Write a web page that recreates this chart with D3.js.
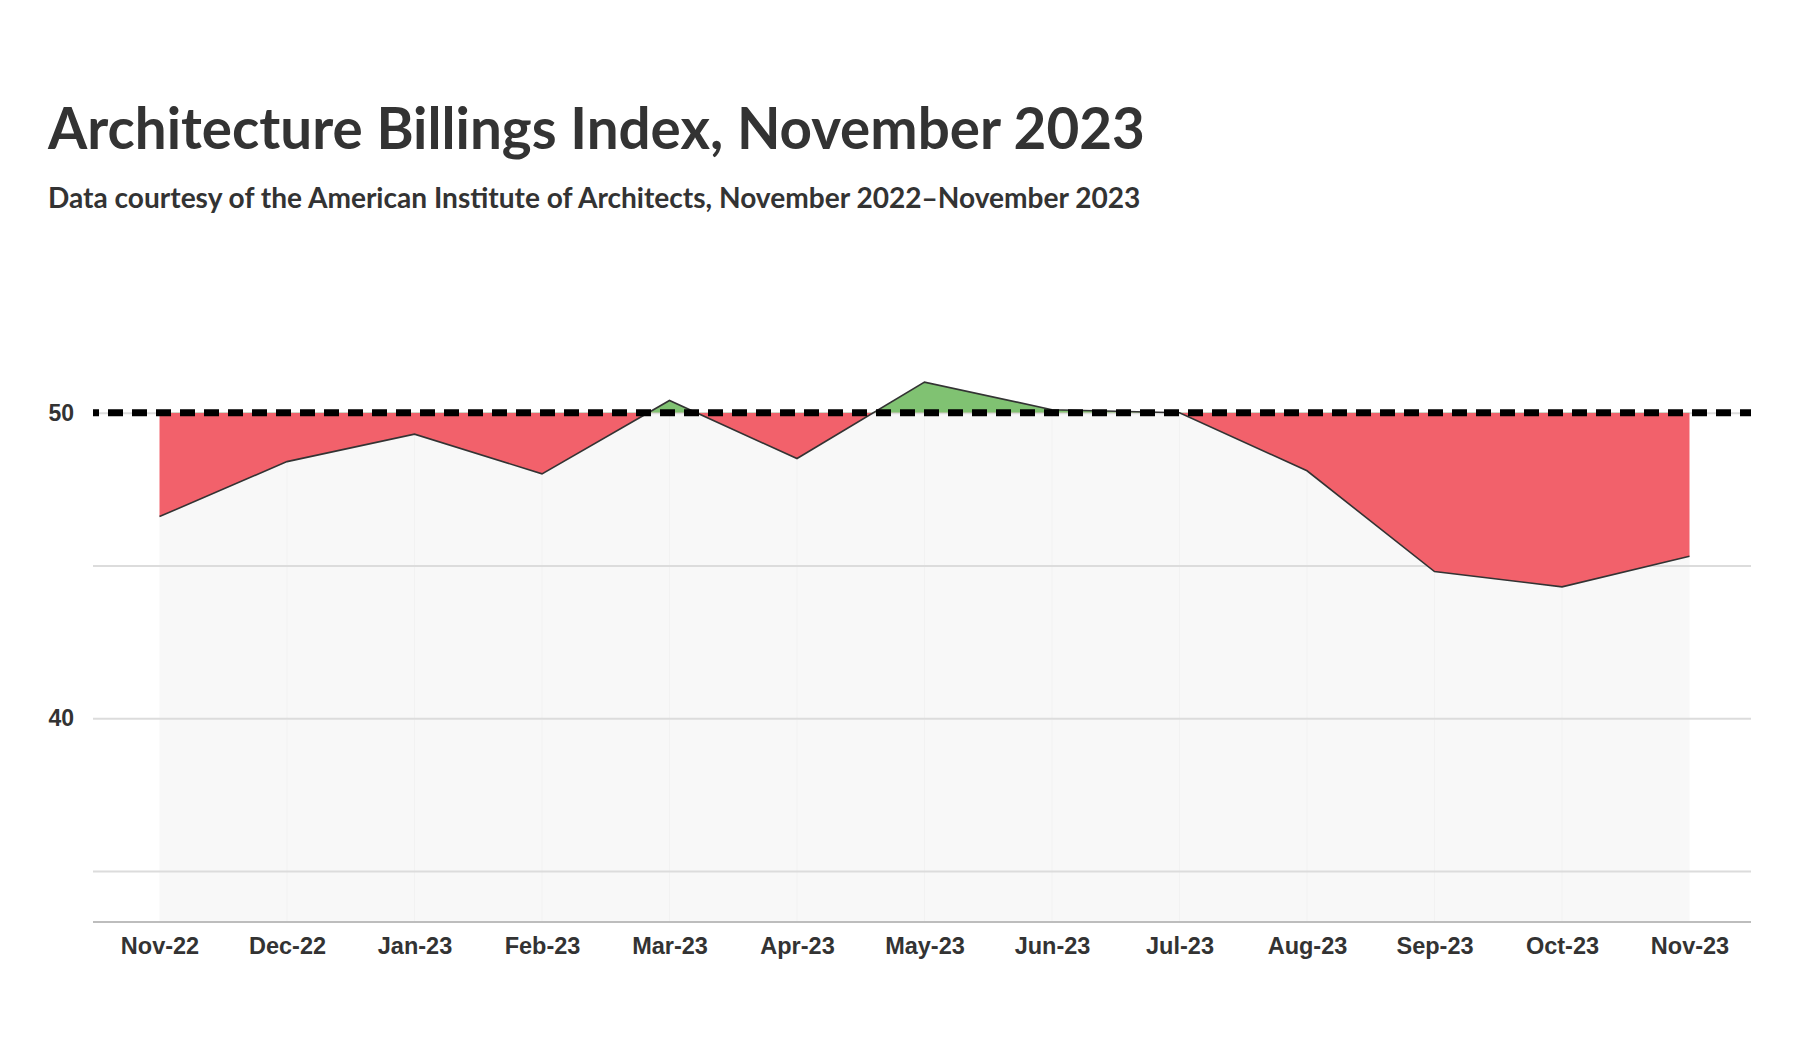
<!DOCTYPE html>
<html>
<head>
<meta charset="utf-8">
<script src="https://cdn.jsdelivr.net/npm/d3@7"></script>
<style>
  body { margin: 0; background: #fff; }
  .title { font-family: Lato, "Noto Sans", sans-serif; font-weight: 700; fill: #333; }
  .tick text { font-family: "Liberation Sans", Arial, sans-serif; font-weight: 700; fill: #333; }
</style>
</head>
<body>
<script>
// chart data
var months = ["Nov-22", "Dec-22", "Jan-23", "Feb-23", "Mar-23", "Apr-23", "May-23",
              "Jun-23", "Jul-23", "Aug-23", "Sep-23", "Oct-23", "Nov-23"];
var billings = [46.6, 48.4, 49.3, 48.0, 50.4, 48.5, 51.0, 50.1, 50.0, 48.1, 44.8, 44.3, 45.3];
var gridTicks = [35, 40, 45, 50];
var labelTicks = [40, 50];
var baseline = 50;

var svgWidth = 1800;
var svgHeight = 1062;

// plot box
var plotLeft = 93, plotRight = 1751, plotTop = 311, plotBottom = 922;

var svg = d3.select("body")
  .append("svg")
  .attr("width", svgWidth)
  .attr("height", svgHeight);

var x = d3.scalePoint()
  .domain(months)
  .range([159.5, 1689.5]);

var y = d3.scaleLinear()
  .domain([33.33, 53.33])
  .range([plotBottom, plotTop]);

var data = months.map((m, i) => ({month: m, value: billings[i]}));

// light grey area under the line
svg.append("path")
  .datum(data)
  .attr("fill", "#f8f8f8")
  .attr("d", d3.area()
    .x(d => x(d.month))
    .y0(plotBottom)
    .y1(d => y(d.value)));

// faint month seams inside the grey area
svg.selectAll(".seam")
  .data(data.slice(1, -1))
  .enter()
  .append("line")
  .attr("class", "seam")
  .attr("x1", d => x(d.month))
  .attr("x2", d => x(d.month))
  .attr("y1", d => y(Math.min(d.value, baseline)) + 2)
  .attr("y2", plotBottom)
  .attr("stroke", "#f2f2f2")
  .attr("stroke-width", 1);

// gridlines
svg.append("g")
  .attr("transform", `translate(${plotLeft},0)`)
  .call(d3.axisLeft(y).tickValues(gridTicks).tickSize(-(plotRight - plotLeft)).tickFormat(""))
  .call(g => g.select(".domain").remove())
  .call(g => g.selectAll("line").attr("stroke", "#dcdcdc").attr("stroke-width", 2));

// red / green areas between the line and 50, split with clip paths
var defs = svg.append("defs");
defs.append("clipPath").attr("id", "below")
  .append("rect")
  .attr("x", 0).attr("y", y(baseline))
  .attr("width", svgWidth).attr("height", plotBottom - y(baseline));
defs.append("clipPath").attr("id", "above")
  .append("rect")
  .attr("x", 0).attr("y", 0)
  .attr("width", svgWidth).attr("height", y(baseline));

var band = d3.area()
  .x(d => x(d.month))
  .y0(y(baseline))
  .y1(d => y(d.value));

svg.append("path")
  .datum(data)
  .attr("fill", "#f2616b")
  .attr("clip-path", "url(#below)")
  .attr("d", band);

svg.append("path")
  .datum(data)
  .attr("fill", "#80c272")
  .attr("clip-path", "url(#above)")
  .attr("d", band);

// the index line
svg.append("path")
  .datum(data)
  .attr("fill", "none")
  .attr("stroke", "#333")
  .attr("stroke-width", 1.6)
  .attr("d", d3.line().x(d => x(d.month)).y(d => y(d.value)));

// dashed 50 reference line
svg.append("line")
  .attr("x1", plotLeft)
  .attr("x2", plotRight)
  .attr("y1", y(baseline))
  .attr("y2", y(baseline))
  .attr("stroke", "#000")
  .attr("stroke-width", 7)
  .attr("stroke-dasharray", "15,9")
  .attr("stroke-dashoffset", 9);

// x axis
var xAxis = svg.append("g")
  .attr("transform", `translate(0,${plotBottom})`)
  .call(d3.axisBottom(x).tickSize(0).tickPadding(15));
xAxis.select(".domain")
  .attr("d", `M${plotLeft},0H${plotRight}`)
  .attr("stroke", "#bdbdbd")
  .attr("stroke-width", 2);
xAxis.selectAll("text").style("font-size", "23.5px");

// y axis labels
var yAxis = svg.append("g")
  .attr("transform", `translate(${plotLeft},0)`)
  .call(d3.axisLeft(y).tickValues(labelTicks).tickSize(0).tickPadding(19));
yAxis.select(".domain").remove();
yAxis.selectAll("text").style("font-size", "23px");

// titles, sized to the reference widths
function fitText(sel, width) {
  var w = sel.node().getComputedTextLength();
  var fs = parseFloat(sel.style("font-size"));
  sel.style("font-size", (fs * width / w) + "px");
}

var title = svg.append("text")
  .attr("class", "title")
  .attr("x", 48)
  .attr("y", 149)
  .style("font-size", "52px")
  .text("Architecture Billings Index, November 2023");
fitText(title, 1097);

var subtitle = svg.append("text")
  .attr("class", "title")
  .attr("x", 48)
  .attr("y", 208)
  .style("font-size", "23px")
  .text("Data courtesy of the American Institute of Architects, November 2022\u2013November 2023");
fitText(subtitle, 1093);
</script>
</body>
</html>
